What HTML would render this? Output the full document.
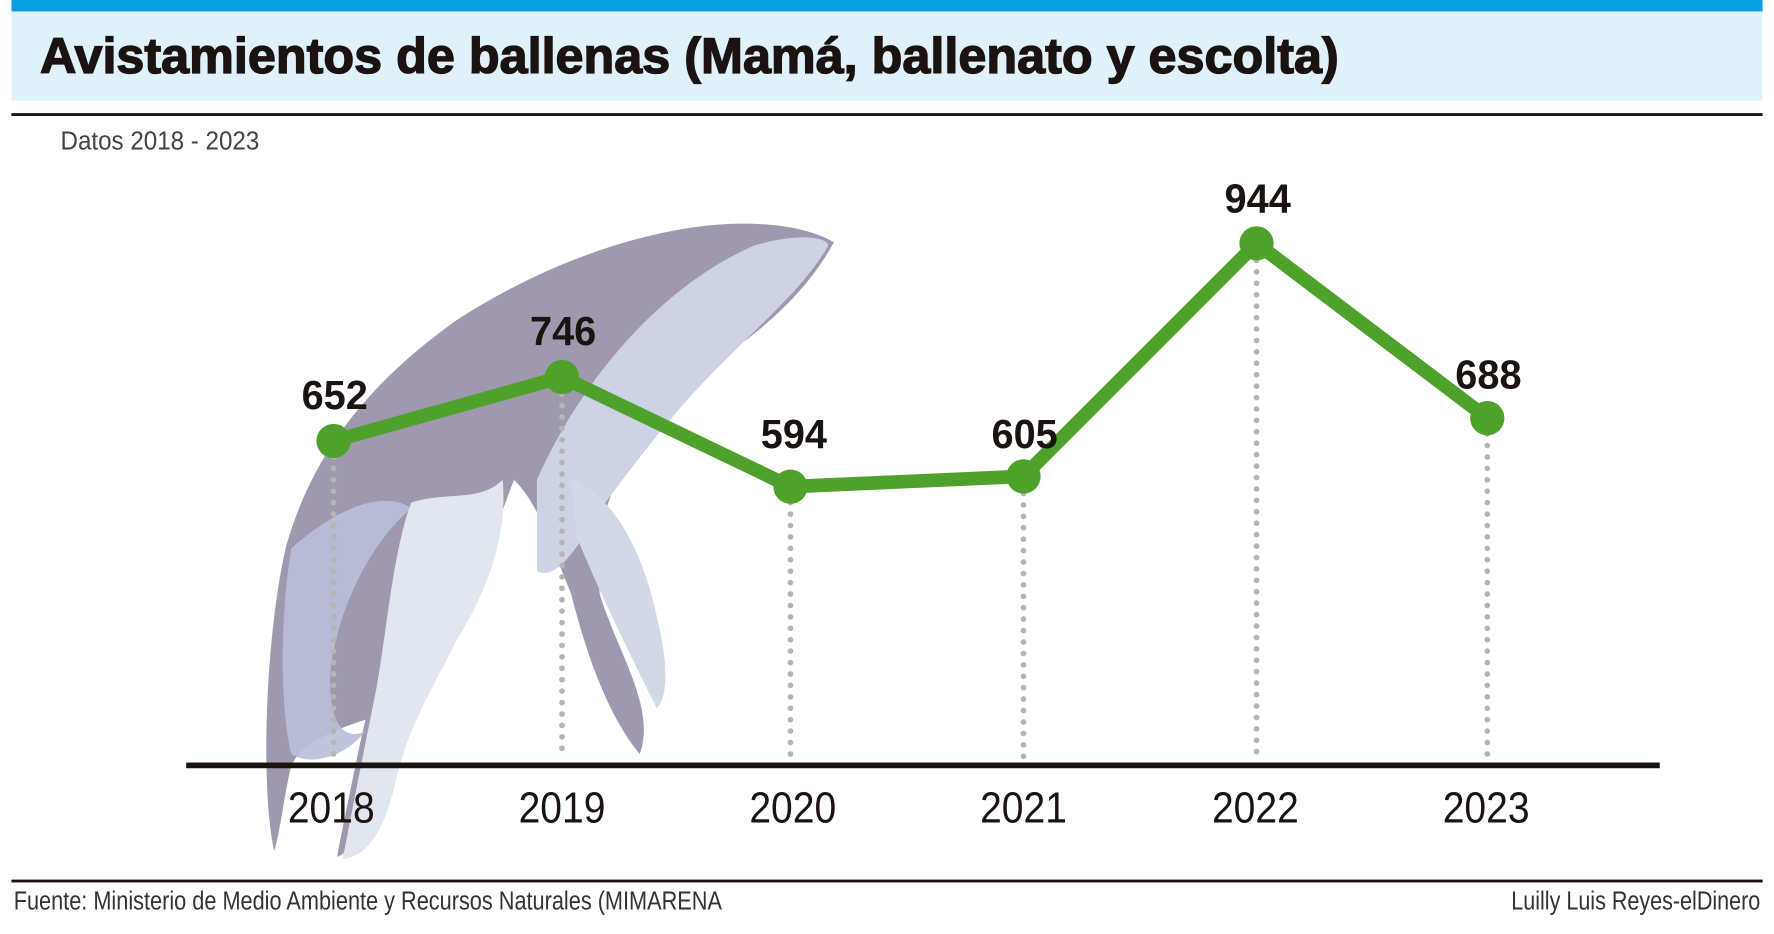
<!DOCTYPE html>
<html><head><meta charset="utf-8"><style>
html,body{margin:0;padding:0;background:#fff;}
svg{display:block;}
text{font-family:"Liberation Sans Narrow","Liberation Sans",sans-serif;}
</style></head><body>
<svg width="1774" height="934" viewBox="0 0 1553 817.6" xmlns="http://www.w3.org/2000/svg">
<rect x="0" y="0" width="1553" height="817.6" fill="#fff"/>
<rect x="10" y="0" width="1533" height="10" fill="#089ddf"/>
<rect x="10" y="10" width="1533" height="78" fill="#e1f1fa"/>
<text x="35" y="64" font-size="44" font-weight="bold" fill="#1a1311" textLength="1137" lengthAdjust="spacingAndGlyphs" stroke="#1a1311" stroke-width="1.2">Avistamientos de ballenas (Mamá, ballenato y escolta)</text>
<rect x="10" y="99" width="1533" height="2.5" fill="#1a1311"/>
<text x="53" y="131" font-size="23" fill="#444" textLength="174" lengthAdjust="spacingAndGlyphs">Datos 2018 - 2023</text>

<!-- whale -->
<path d="M240,745 C228,690 232,560 250,480 C275,390 330,330 400,280 C470,235 540,210 600,200 C650,192 700,195 730,212 C715,240 690,270 650,300 C610,340 580,370 555,400 C530,430 520,470 525,520 C540,570 575,620 560,660 C535,630 515,580 500,520 C480,470 470,440 450,420 C430,470 420,520 390,560 C370,600 340,640 330,700 C322,730 300,750 295,750 C305,700 315,650 320,630 C290,640 265,650 255,670 C248,700 245,730 240,745 Z" fill="#9e99ae"/>
<path d="M470,420 C510,330 580,250 660,215 C700,203 725,208 725,215 C705,250 670,280 630,320 C590,360 560,400 530,440 C510,470 490,510 470,500 Z" fill="#cdd3e4"/>
<path d="M255,480 C300,440 340,430 360,445 C330,470 300,520 290,580 C285,630 300,650 320,640 C300,665 270,670 255,660 C245,620 245,540 255,480 Z" fill="#b9bfd9" opacity="0.9"/>
<path d="M360,440 C390,430 420,440 440,420 C445,470 425,520 400,560 C380,600 355,640 345,690 C335,730 320,750 300,752 C310,700 320,650 330,600 C340,540 345,480 360,440 Z" fill="#e1e6ef"/>
<path d="M500,420 C530,430 560,470 575,540 C585,580 585,610 575,620 C555,580 525,520 505,470 Z" fill="#d2d8e6"/>

<!-- dotted guides -->
<g stroke="#b5b5b5" stroke-width="5" stroke-dasharray="0 10" stroke-linecap="round">
<line x1="292" y1="400" x2="292" y2="665"/>
<line x1="492" y1="345" x2="492" y2="665"/>
<line x1="692" y1="440" x2="692" y2="665"/>
<line x1="896" y1="432" x2="896" y2="665"/>
<line x1="1100" y1="228" x2="1100" y2="665"/>
<line x1="1302" y1="380" x2="1302" y2="665"/>
</g>
<rect x="163" y="667.5" width="1290" height="5" fill="#1a1311"/>

<!-- series -->
<polyline points="292,386 492,330 692,426 896,417 1100,213 1302,366" fill="none" stroke="#4ea22b" stroke-width="12" stroke-linejoin="round"/>
<g fill="#4ea22b">
<circle cx="292" cy="386" r="15"/><circle cx="492" cy="330" r="15"/><circle cx="692" cy="426" r="15"/>
<circle cx="896" cy="417" r="15"/><circle cx="1100" cy="213" r="15"/><circle cx="1302" cy="366" r="15"/>
</g>
<g font-size="36" font-weight="bold" fill="#1a1311" text-anchor="middle">
<text x="293" y="358" textLength="58" lengthAdjust="spacingAndGlyphs">652</text>
<text x="493" y="302" textLength="58" lengthAdjust="spacingAndGlyphs">746</text>
<text x="695" y="392" textLength="58" lengthAdjust="spacingAndGlyphs">594</text>
<text x="897" y="392" textLength="58" lengthAdjust="spacingAndGlyphs">605</text>
<text x="1101" y="186" textLength="58" lengthAdjust="spacingAndGlyphs">944</text>
<text x="1303" y="340" textLength="58" lengthAdjust="spacingAndGlyphs">688</text>
</g>
<g font-size="38" fill="#1a1311" text-anchor="middle">
<text x="290" y="720" textLength="76" lengthAdjust="spacingAndGlyphs">2018</text>
<text x="492" y="720" textLength="76" lengthAdjust="spacingAndGlyphs">2019</text>
<text x="694" y="720" textLength="76" lengthAdjust="spacingAndGlyphs">2020</text>
<text x="896" y="720" textLength="76" lengthAdjust="spacingAndGlyphs">2021</text>
<text x="1099" y="720" textLength="76" lengthAdjust="spacingAndGlyphs">2022</text>
<text x="1301" y="720" textLength="76" lengthAdjust="spacingAndGlyphs">2023</text>
</g>
<rect x="10" y="770" width="1533" height="2.5" fill="#1a1311"/>
<text x="12" y="796" font-size="23" fill="#333" textLength="620" lengthAdjust="spacingAndGlyphs">Fuente: Ministerio de Medio Ambiente y Recursos Naturales (MIMARENA</text>
<text x="1541" y="796" font-size="23" fill="#333" text-anchor="end" textLength="218" lengthAdjust="spacingAndGlyphs">Luilly Luis Reyes-elDinero</text>
</svg>
</body></html>
